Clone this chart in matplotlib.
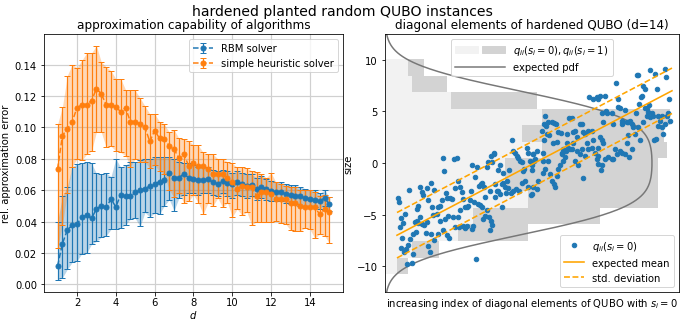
import math
import numpy as np
import matplotlib
matplotlib.use("Agg")
import matplotlib.pyplot as plt
from matplotlib.patches import Patch
from matplotlib.lines import Line2D
from matplotlib.legend_handler import HandlerTuple

# ---------- left panel data ----------
d = np.arange(1, 15.01, 0.25)

rbm_mean = [0.0117, 0.026, 0.0345, 0.0377, 0.0383, 0.043, 0.044, 0.042, 0.048, 0.050,
            0.049, 0.0543, 0.0494, 0.057, 0.0565, 0.056, 0.0586, 0.060, 0.061, 0.0625,
            0.064, 0.0655, 0.0666, 0.071, 0.068, 0.068, 0.0703, 0.068, 0.067, 0.0667,
            0.0665, 0.067, 0.065, 0.064, 0.066, 0.0645, 0.064, 0.065, 0.064, 0.0628,
            0.063, 0.061, 0.062, 0.061, 0.0594, 0.0586, 0.059, 0.0575, 0.057, 0.0565,
            0.056, 0.055, 0.0543, 0.054, 0.053, 0.055, 0.051]
rbm_lo = [0.0026, 0.0043, 0.0096, 0.014, 0.015, 0.0196, 0.020, 0.0256, 0.0273, 0.030,
          0.031, 0.035, 0.035, 0.036, 0.038, 0.0415, 0.042, 0.037, 0.0458, 0.043,
          0.0454, 0.045, 0.050, 0.054, 0.047, 0.055, 0.057, 0.058, 0.058, 0.057,
          0.058, 0.058, 0.057, 0.056, 0.058, 0.056, 0.055, 0.057, 0.056, 0.055,
          0.056, 0.054, 0.055, 0.054, 0.053, 0.053, 0.053, 0.052, 0.051, 0.051,
          0.050, 0.050, 0.049, 0.049, 0.048, 0.050, 0.047]
rbm_hi = [0.040, 0.056, 0.062, 0.075, 0.0767, 0.077, 0.078, 0.077, 0.0707, 0.070,
          0.071, 0.0686, 0.080, 0.0746, 0.076, 0.078, 0.078, 0.079, 0.080, 0.080,
          0.081, 0.081, 0.081, 0.081, 0.080, 0.078, 0.077, 0.077, 0.076, 0.075,
          0.075, 0.075, 0.073, 0.072, 0.073, 0.072, 0.071, 0.072, 0.071, 0.070,
          0.070, 0.068, 0.069, 0.067, 0.066, 0.065, 0.065, 0.064, 0.063, 0.063,
          0.062, 0.061, 0.060, 0.060, 0.058, 0.060, 0.0555]

heur_mean = [0.0735, 0.0948, 0.099, 0.1035, 0.1125, 0.1145, 0.1145, 0.117, 0.1246, 0.1214,
             0.1145, 0.1145, 0.113, 0.110, 0.1125, 0.1037, 0.1035, 0.1023, 0.100, 0.091,
             0.098, 0.093, 0.0925, 0.0884, 0.086, 0.0805, 0.083, 0.0756, 0.077, 0.0756,
             0.0756, 0.0735, 0.070, 0.070, 0.070, 0.068, 0.0654, 0.061, 0.0628, 0.062,
             0.062, 0.0564, 0.0586, 0.059, 0.0575, 0.0543, 0.0543, 0.0543, 0.0518, 0.052,
             0.050, 0.049, 0.049, 0.049, 0.0447, 0.048, 0.046]
heur_lo = [0.023, 0.038, 0.058, 0.075, 0.080, 0.079, 0.083, 0.085, 0.097, 0.097,
           0.0875, 0.088, 0.085, 0.084, 0.082, 0.075, 0.080, 0.078, 0.078, 0.074,
           0.076, 0.072, 0.070, 0.060, 0.0554, 0.058, 0.052, 0.053, 0.057, 0.052,
           0.0447, 0.052, 0.050, 0.055, 0.049, 0.052, 0.043, 0.048, 0.044, 0.046,
           0.0377, 0.040, 0.0394, 0.040, 0.040, 0.0405, 0.039, 0.0384, 0.0345, 0.034,
           0.034, 0.036, 0.035, 0.0294, 0.032, 0.031, 0.0262]
heur_hi = [0.102, 0.113, 0.133, 0.140, 0.138, 0.1427, 0.1474, 0.1474, 0.152, 0.1417,
           0.1385, 0.136, 0.131, 0.131, 0.124, 0.124, 0.1235, 0.1187, 0.1136, 0.1086,
           0.1086, 0.1037, 0.102, 0.097, 0.0985, 0.093, 0.0925, 0.0915, 0.0888, 0.0885,
           0.084, 0.083, 0.083, 0.080, 0.080, 0.078, 0.077, 0.0746, 0.075, 0.074,
           0.0724, 0.0717, 0.0703, 0.068, 0.071, 0.065, 0.064, 0.0628, 0.062, 0.062,
           0.060, 0.060, 0.060, 0.0586, 0.0564, 0.057, 0.0558]

# ---------- right panel data ----------
bin_edges = [-10.8, -9.2, -7.6, -5.95, -4.35, -2.75, -1.15, 0.45, 2.05, 3.65, 5.25, 6.85, 8.45, 10.05]
hist_s0 = [12, 27, 73, 88, 143, 120, 120, 157, 137, 157, 66, 27, 23]
hist_s1 = [11, 27, 70, 127, 130, 153, 153, 125, 142, 128, 86, 35, 16]

mean_x = [12, 287]
mean_y = [-7.0, 7.0]
std_dev = 2.2
pdf_peak = 267

pts_x = [13, 14, 16, 20, 24, 18, 15, 17, 16, 21, 23, 25, 19, 22, 27, 28,
         33, 32, 35, 37, 38, 42, 43, 46, 49, 47, 48, 30, 32, 33, 37, 39, 42, 31, 41, 46, 43, 45, 49, 35, 28,
         53, 55, 58, 59, 61, 62, 65, 67, 68, 69, 55, 60, 63, 53, 58, 62, 64, 52, 57,
         72, 70, 73, 75, 77, 78, 80, 82, 83, 85, 86, 75, 73, 70, 74, 78, 80, 82, 87, 88, 87, 89,
         90, 92, 94, 96, 97, 99, 102, 103, 106, 107, 109, 109, 93, 95, 97, 98, 100, 102, 104, 106, 105, 107, 91, 100, 105,
         110, 112, 113, 115, 117, 118, 120, 122, 113, 127, 128, 126, 123, 121, 128, 115, 118, 124, 117, 110,
         130, 132, 133, 135, 137, 138, 139, 142, 143, 145, 147, 147, 148, 146, 143, 140, 137, 134, 131, 149,
         147, 148, 150, 152, 158, 157, 159, 161, 163, 160, 159, 162, 164, 158, 160, 163, 165, 148, 152, 147, 153, 158,
         167, 169, 171, 173, 176, 168, 172, 177, 178, 180, 182, 183, 167, 169, 170, 173, 175, 177, 181, 178, 184, 182, 172,
         187, 188, 190, 192, 195, 197, 198, 200, 203, 204, 198, 187, 185, 192, 195, 197, 200, 202, 190, 193, 203, 188,
         207, 208, 212, 213, 215, 217, 218, 220, 221, 222, 207, 208, 210, 213, 215, 217, 218, 212, 213, 217, 216, 220, 223, 213,
         227, 228, 231, 233, 235, 237, 238, 240, 242, 243, 245, 230, 232, 235, 237, 240, 242, 243, 237, 233, 227, 228,
         247, 248, 251, 252, 253, 254, 256, 257, 258, 260, 262, 263, 264, 253, 255, 247, 244, 250, 258, 262, 260,
         265, 267, 268, 270, 271, 272, 273, 275, 277, 278, 280, 281, 282, 283, 284, 285, 269, 273, 277, 280, 265]
pts_y = [-3.4, -3.8, -5.3, -4.9, -2.6, -5.8, -6.2, -7.3, -8.2, -8.3, -7.9, -7.4, -8.6, -9.8, -9.7, -8.8,
         -4.2, -4.5, -2.3, -2.8, -3.1, -2.4, -3.6, -1.9, -2.6, -4.3, -5.0, -5.7, -5.6, -5.8, -5.9, -6.0, -5.7, -6.7, -6.8, -6.9, -8.0, -8.6, -7.5, -5.2, -6.9,
         -4.3, -4.2, 0.5, -0.8, -2.9, -3.4, -3.4, -3.5, -5.2, 0.4, -5.6, -5.4, -5.1, -6.9, -6.5, -7.0, -7.3, -4.9, -3.6,
         0.5, -2.4, -1.7, -2.3, -2.8, -3.5, -4.3, -4.3, -4.2, -3.6, -2.7, -4.6, -5.2, -6.2, -6.2, -6.1, -6.3, -6.1, -0.2, -6.1, -6.4, -3.8,
         -1.4, -0.4, -2.2, -2.0, -1.9, -2.3, -0.4, 0.1, 0.7, 0.1, 1.0, 0.9, -4.0, -4.1, -4.3, -5.4, -5.1, -4.6, -5.2, -5.6, -6.5, -6.0, -9.35, -3.3, -2.7,
         -2.0, -2.7, -2.7, -3.0, -2.0, -1.9, -2.3, -1.7, -0.7, 2.2, 1.2, -2.9, -2.4, -2.9, -2.7, -0.2, -1.0, -0.7, -4.3, -3.3,
         1.0, 0.7, 0.5, 0.2, 0.1, -0.8, -0.6, 1.5, 1.0, 0.2, 0.1, -0.7, 0.9, -3.1, -2.3, -1.7, -1.9, -2.7, -2.5, 0.2,
         -0.2, 0.9, 0.4, 1.2, 1.0, 3.1, 3.8, 3.6, 4.0, 4.6, 2.2, 2.8, 2.7, 0.2, -0.6, 0.2, -1.1, -2.3, -2.5, -3.0, -1.7, -1.0,
         4.0, 3.9, 3.8, 3.0, 2.9, 1.9, 2.0, 1.0, 1.4, 0.6, 1.9, 1.5, -1.7, -2.0, -2.3, -0.6, -0.2, 0.9, 1.2, 0.2, 4.4, 2.8, -1.3,
         4.4, 3.0, 3.1, 2.5, 3.8, 3.8, 3.0, 2.8, 3.1, 6.4, -1.5, 1.4, 1.4, 1.2, 0.9, 1.4, 0.7, 1.9, 0.2, -0.2, 1.4, 1.9,
         3.1, 6.2, 6.4, 6.2, 6.5, 4.8, 4.0, 6.5, 5.0, 4.8, 1.5, 2.2, 1.0, 1.5, 2.5, 2.2, 1.9, 0.4, 0.7, -0.2, -0.7, 0.4, 0.6, -0.1,
         0.4, 0.4, 7.8, 5.4, 5.3, 3.8, 4.0, 5.1, 4.0, 4.0, 4.1, 1.4, 0.9, 1.2, 1.0, 0.9, 1.9, 2.7, 4.1, 6.2, 4.8, 3.8,
         3.8, 3.5, 4.8, 8.5, 8.5, 5.7, 6.4, 6.5, 7.5, 7.2, 5.3, 4.9, 5.6, 3.5, 2.2, 1.4, 0.6, 2.8, 4.0, 4.6, 5.3,
         9.0, 4.8, 4.6, 8.6, 2.3, 7.2, 3.6, 4.1, 3.5, 2.8, 9.1, 8.3, 4.6, 4.8, 6.2, 4.1, 2.2, 4.6, 4.6, 3.8, 4.5]

# ---------- figure (drawn at normal size, saved at 72 dpi) ----------
fig = plt.figure(figsize=(9.514, 4.472))
fig.suptitle("hardened planted random QUBO instances", fontsize=14, y=0.962, va="center")

ax1 = fig.add_axes([0.0642, 0.0901, 0.4365, 0.8012])
for mean, lo, hi, col, lab in [(rbm_mean, rbm_lo, rbm_hi, "tab:blue", "RBM solver"),
                               (heur_mean, heur_lo, heur_hi, "tab:orange", "simple heuristic solver")]:
    mean, lo, hi = np.array(mean), np.array(lo), np.array(hi)
    ax1.errorbar(d, mean, yerr=[mean - lo, hi - mean], fmt="--o", color=col, ms=5,
                 lw=1.5, elinewidth=1.2, capsize=3, label=lab)
    ax1.fill_between(d, lo, hi, color=col, alpha=0.3, lw=0)
ax1.grid(True, color="#d0d0d0", lw=1.2)
ax1.set_axisbelow(True)
ax1.tick_params(axis="x", pad=2)
ax1.set_xlabel("$d$", labelpad=1)
ax1.set_ylabel("rel. approximation error")
ax1.set_title("approximation capability of algorithms")
ax1.legend(loc="upper right")

ax2 = fig.add_axes([0.5620, 0.0901, 0.4292, 0.8012])
edges = np.array(bin_edges)
h = np.diff(edges)
ax2.barh(edges[:-1], hist_s0, height=h, align="edge", left=0, color="#f2f2f2", lw=0)
ax2.barh(edges[:-1], hist_s1, height=h, align="edge", left=hist_s0, color="#d3d3d3", lw=0)

yy = np.linspace(-12.5, 12.5, 400)
phi = lambda z: 0.5 * (1 + math.erf(z / math.sqrt(2)))
norm = phi(mean_y[1] / std_dev) - phi(mean_y[0] / std_dev)
pdf = [pdf_peak * (phi((mean_y[1] - v) / std_dev) - phi((mean_y[0] - v) / std_dev)) / norm for v in yy]
ax2.plot(pdf, yy, color="#777777", lw=1.5)

ax2.plot(pts_x, pts_y, ".", color="tab:blue", ms=9)
ax2.plot(mean_x, mean_y, color="orange", lw=1.6)
ax2.plot(mean_x, [v + std_dev for v in mean_y], "--", color="orange", lw=1.6)
ax2.plot(mean_x, [v - std_dev for v in mean_y], "--", color="orange", lw=1.6)

ax2.set_xlim(0, 294)
ax2.set_ylim(-12.5, 12.5)
ax2.set_xticks([])
ax2.set_yticks([-10, -5, 0, 5, 10])
ax2.set_ylabel("size")
ax2.set_xlabel("increasing index of diagonal elements of QUBO with $s_i = 0$")
ax2.set_title("diagonal elements of hardened QUBO (d=14)")

leg1 = ax2.legend([(Patch(color="#f2f2f2"), Patch(color="#d3d3d3")),
                   Line2D([], [], color="#777777", lw=1.5)],
                  ["$q_{ii}(s_i = 0), q_{ii}(s_i = 1)$", "expected pdf"],
                  handler_map={tuple: HandlerTuple(ndivide=None)},
                  loc="upper center", handlelength=5)
ax2.add_artist(leg1)
ax2.legend([Line2D([], [], ls="", marker=".", color="tab:blue", ms=9),
            Line2D([], [], color="orange", lw=1.6),
            Line2D([], [], color="orange", ls="--", lw=1.6)],
           ["$q_{ii}(s_i = 0)$", "expected mean", "std. deviation"],
           loc="lower right")

fig.savefig("out.png", dpi=72)
